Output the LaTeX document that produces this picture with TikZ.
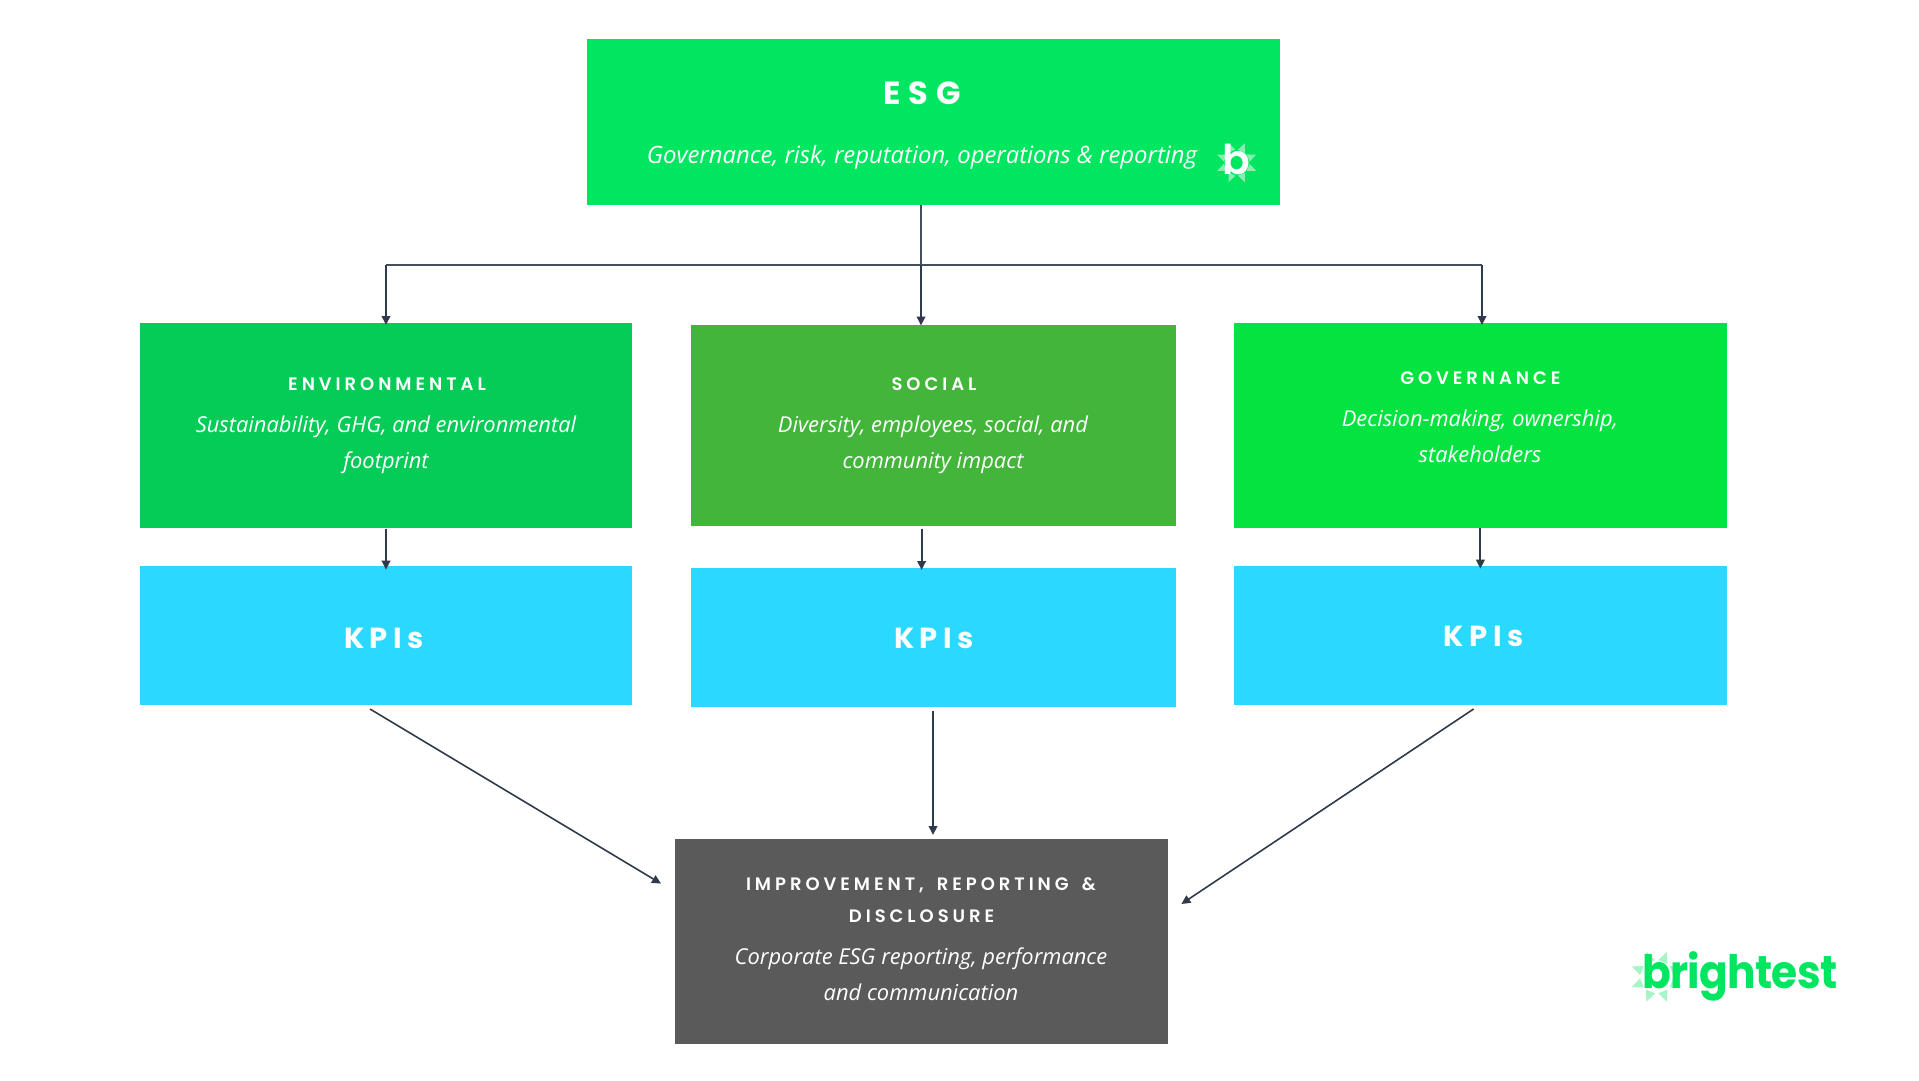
\documentclass[tikz,border=0pt]{standalone}
\usepackage{fontspec}
\setmainfont{Open Sans}
\newfontfamily\descfont{Open Sans}
\newfontfamily\headfont[LetterSpace=22,WordSpace=1.6,BoldFont={Poppins SemiBold}]{Poppins}
\newfontfamily\bigfont[LetterSpace=19]{Poppins}
\newfontfamily\esgfont[LetterSpace=25]{Poppins}
\newfontfamily\logofont[LetterSpace=-1.5,FakeStretch=0.92]{Poppins}
\newfontfamily\markfont[BoldFont={Poppins SemiBold}]{Poppins}
\usetikzlibrary{arrows.meta,calc}
\definecolor{cesg}{HTML}{00E660}
\definecolor{cenv}{HTML}{05CB57}
\definecolor{csoc}{HTML}{43B53B}
\definecolor{cgov}{HTML}{05E341}
\definecolor{ckpi}{HTML}{2BD8FF}
\definecolor{cdark}{HTML}{5A5A5A}
\definecolor{cline}{HTML}{2F3B4C}
\definecolor{ctrunk}{HTML}{444F5E}
\definecolor{cray}{HTML}{A6F5C6}
\definecolor{crayb}{HTML}{86EFAF}
\tikzset{
  x=1pt,y=-1pt,
  boxn/.style={rectangle,draw=none,inner sep=0pt,outer sep=0pt,anchor=north west,text=white},
  head/.style={anchor=base,text=white,inner sep=0pt,font=\headfont\bfseries\fontsize{18}{24}\selectfont},
  desc/.style={anchor=base,text=white,inner sep=0pt,font=\descfont\itshape\fontsize{21.9}{30}\selectfont},
  kpi/.style={anchor=base,text=white,inner sep=0pt,font=\bigfont\bfseries\fontsize{29}{34}\selectfont},
  conn/.style={draw=cline,line width=1.9pt,-{Triangle[length=9pt,width=8.5pt]}},
  trunkline/.style={draw=ctrunk,line width=2.2pt},
}
\newcommand{\rays}[4]{%
  \foreach \k in {0,...,7}{%
    \fill[#4] ($(#1,#2)+({22.5+45*\k-17}:{#3*0.62})$) -- ($(#1,#2)+({22.5+45*\k}:#3)$) -- ($(#1,#2)+({22.5+45*\k+17}:{#3*0.62})$) -- cycle;
  }%
}
\begin{document}
\begin{tikzpicture}
\useasboundingbox (0,0) rectangle (1919,1080);
\fill[white] (0,0) rectangle (1919,1080);
% boxes
\node[boxn,fill=cesg,minimum width=692.6pt,minimum height=166pt] (esg) at (587,39) {};
\node[boxn,fill=cenv,minimum width=492.5pt,minimum height=204.5pt] (env) at (139.5,323.3) {};
\node[boxn,fill=csoc,minimum width=485pt,minimum height=200.5pt] (soc) at (690.6,325.3) {};
\node[boxn,fill=cgov,minimum width=492.8pt,minimum height=204.5pt] (gov) at (1234,323.3) {};
\node[boxn,fill=ckpi,minimum width=492.5pt,minimum height=138.7pt] (kpienv) at (139.5,566.3) {};
\node[boxn,fill=ckpi,minimum width=485pt,minimum height=138.7pt] (kpisoc) at (690.6,568) {};
\node[boxn,fill=ckpi,minimum width=492.8pt,minimum height=138.7pt] (kpigov) at (1234,566.3) {};
\node[boxn,fill=cdark,minimum width=492.5pt,minimum height=204.4pt] (imp) at (675,839.3) {};
% coordinates for connector ends
\coordinate (trunk) at (921,265.3);
\coordinate (bl) at (386,265.3);
\coordinate (br) at (1482,265.3);
\coordinate (envtip) at (386,325);
\coordinate (soctip) at (921,325.5);
\coordinate (govtip) at (1482,325);
\coordinate (envout) at (386,529.3);
\coordinate (envkpi) at (386,569.7);
\coordinate (socout) at (921.6,528.7);
\coordinate (sockpi) at (921.6,570);
\coordinate (govout) at (1480.4,528);
\coordinate (govkpi) at (1480.4,568.7);
\coordinate (kl) at (370,709);
\coordinate (kltip) at (661,883.6);
\coordinate (km) at (933,711);
\coordinate (kmtip) at (933,835);
\coordinate (kr) at (1473.6,709);
\coordinate (krtip) at (1181.4,904);
% connectors
\draw[trunkline] (esg.south -| trunk) -- (trunk);
\draw[trunkline] (bl) -- (br);
\draw[conn] (trunk) -- (soctip);
\draw[conn] (bl) -- (envtip);
\draw[conn] (br) -- (govtip);
\draw[conn] (envout) -- (envkpi);
\draw[conn] (socout) -- (sockpi);
\draw[conn] (govout) -- (govkpi);
\draw[conn,line width=1.6pt] (kl) -- (kltip);
\draw[conn] (km) -- (kmtip);
\draw[conn,line width=1.6pt] (kr) -- (krtip);
% texts
\node[anchor=base,text=white,inner sep=0pt,font=\esgfont\bfseries\fontsize{32}{36}\selectfont] (tesg) at (922,104) {ESG};
\node[desc,font=\descfont\itshape\fontsize{23.85}{30}\selectfont] (desg) at (922,163.3) {Governance, risk, reputation, operations \& reporting};
\node[head] (tenv) at (387,390) {ENVIRONMENTAL};
\node[desc] (denva) at (386,432.7) {Sustainability, GHG, and environmental};
\node[desc] (denvb) at (386,468.7) {footprint};
\node[head] (tsoc) at (934,390) {SOCIAL};
\node[desc] (dsoca) at (933,432.7) {Diversity, employees, social, and};
\node[desc] (dsocb) at (933,468.7) {community impact};
\node[head] (tgov) at (1480.4,384) {GOVERNANCE};
\node[desc] (dgova) at (1480,426) {Decision-making, ownership,};
\node[desc] (dgovb) at (1480,462) {stakeholders};
\node[kpi] (kenv) at (384,648) {KPIs};
\node[kpi] (ksoc) at (934,648) {KPIs};
\node[kpi] (kgov) at (1483.5,646) {KPIs};
\node[head] (timpa) at (921,890) {IMPROVEMENT, REPORTING \&};
\node[head] (timpb) at (921.6,922.5) {DISCLOSURE};
\node[desc] (dimpa) at (921,964.3) {Corporate ESG reporting, performance};
\node[desc] (dimpb) at (921,1000.3) {and communication};
% small mark in ESG box
\rays{1236.7}{162.7}{21}{crayb}
\node[anchor=base,text=white,inner sep=0pt,font=\markfont\bfseries\fontsize{41}{41}\selectfont] (markb) at (1236.5,174) {b};
% brand logo
\rays{1656.7}{976.7}{27}{cray}
\node[anchor=base west,text=cesg,inner sep=0pt,font=\logofont\bfseries\fontsize{46}{46}\selectfont] (logo) at (1642,988) {brightest};
\end{tikzpicture}
\end{document}
